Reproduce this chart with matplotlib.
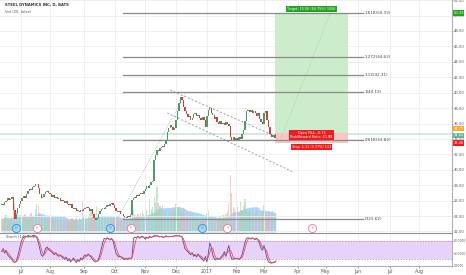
import numpy as np
import pandas as pd
import matplotlib
matplotlib.use('Agg')
import matplotlib.pyplot as plt
from matplotlib.patches import Rectangle

title = 'STEEL DYNAMICS INC, D, BATS'

# daily closes, 14 Jun 2016 .. 13 Mar 2017
closes = [
    25.6, 25.4, 25.8, 26.0, 26.3, 26.1, 26.2, 26.5, 24.8, 23.6, 24.2, 25.0, 25.6,
    25.9, 26.3, 26.6, 26.4, 26.9, 27.2, 27.5, 27.4, 27.8, 27.9, 28.1, 28.2, 27.7,
    26.9, 26.4, 26.5, 26.9, 27.1, 27.3, 27.0,
    26.8, 26.5, 26.7, 26.4, 26.5, 26.2, 26.3, 26.0, 26.1, 25.9, 25.7, 25.9, 25.6,
    25.4, 25.5, 25.1, 24.9, 25.0, 24.6, 24.7, 24.5, 24.8, 24.6,
    24.9, 25.1, 25.2, 25.0, 24.7, 24.9, 24.2, 23.7, 23.5, 23.8, 24.2, 24.6, 24.9,
    25.1, 24.9, 25.2, 25.4, 25.3, 25.6, 25.7, 25.4,
    25.0, 24.7, 24.5, 24.6, 24.3, 24.2, 24.0, 23.9, 23.8, 24.0, 23.9, 24.1, 26.1,
    26.4, 26.3, 26.7, 26.6, 26.9, 27.0, 26.8, 27.2,
    27.5, 27.9, 27.6, 28.0, 28.4, 28.6, 31.3, 31.9, 32.6, 32.4, 32.8, 33.0, 32.9,
    33.3, 33.8, 34.9, 35.4, 35.8, 35.5, 35.2, 35.4,
    36.5, 37.6, 38.7, 39.4, 39.0, 38.2, 37.6, 37.2, 36.8, 37.0, 36.5, 36.7, 37.2,
    37.4, 37.0, 37.1, 36.7, 36.5, 36.8, 36.4, 35.6,
    37.0, 37.8, 38.0, 37.4, 37.1, 36.6, 36.9, 36.2, 36.0, 36.3, 35.9, 36.1, 35.8,
    36.2, 35.9, 35.7, 34.2, 33.9, 34.3, 33.8,
    34.1, 33.9, 34.2, 34.0, 34.6, 35.2, 36.3, 37.6, 37.8, 37.5, 37.7, 37.3, 37.6,
    37.4, 37.0, 37.3, 36.6, 36.2, 36.0,
    37.3, 37.6, 36.5, 35.5, 34.6, 34.3, 34.5, 34.1, 34.62,
]
# volume, millions
volumes = [
    4.2, 3.8, 4.5, 5.1, 3.9, 4.0, 3.6, 4.4, 7.8, 8.5, 6.2, 4.8, 4.6,
    4.1, 3.9, 4.6, 5.3, 4.2, 3.8, 4.9, 5.5, 4.4, 4.0, 6.8, 8.2, 7.5, 5.6, 4.9,
    4.2, 3.9, 4.5, 3.8, 4.1,
    4.4, 3.9, 4.0, 3.6, 4.2, 3.5, 3.8, 4.6, 3.7, 3.4, 3.9, 4.1, 3.6, 3.3, 3.8,
    4.0, 3.5, 3.9, 4.3, 3.6, 4.0, 3.8, 9.2,
    4.5, 3.9, 4.1, 4.8, 5.2, 6.1, 5.4, 4.6, 4.2, 7.5, 4.3, 3.9, 4.4, 4.0, 3.7,
    4.5, 4.1, 3.8, 4.2, 4.6, 4.0,
    3.9, 4.2, 3.6, 3.8, 4.1, 3.5, 3.9, 4.3, 3.7, 3.6, 4.0, 5.2, 8.8, 6.5, 5.1,
    4.6, 5.3, 4.8, 5.5, 6.2, 5.4,
    5.8, 6.4, 5.1, 9.7, 6.8, 7.4, 10.2, 9.1, 13.2, 8.4, 7.6, 6.9, 7.8, 6.2, 5.5,
    4.8, 6.1, 5.3, 6.6, 7.2, 5.9,
    8.1, 6.7, 7.4, 6.2, 5.5, 6.9, 5.1, 4.6, 5.8, 4.9, 6.3, 5.2, 4.4, 3.8, 4.1,
    3.5, 2.9, 3.2, 3.6, 3.3, 3.9,
    5.6, 6.2, 4.8, 4.1, 4.5, 3.9, 4.3, 3.7, 4.0, 4.6, 3.8, 5.1, 4.4, 5.2, 5.9,
    8.3, 16.8, 11.5, 7.2, 6.8,
    5.5, 7.3, 6.0, 8.9, 6.4, 7.7, 9.6, 6.2, 5.8, 6.5, 5.3, 5.9, 4.9, 5.6, 6.4,
    5.2, 4.8, 5.7, 6.3,
    7.8, 5.9, 5.1, 6.0, 5.4, 5.8, 6.2, 5.0, 4.7,
]
# stochastic %K
stoch_k = [
    45, 55, 40, 50, 35, 30, 25, 20, 12, 10, 15,
    30, 50, 70, 85, 92, 95, 93, 97, 95, 92, 96, 98, 94, 90,
    75, 55, 35, 30, 40, 55, 60, 52, 48, 45,
    40, 35, 42, 33, 30, 35, 28,
    25, 20, 28, 15, 22, 12, 18, 25, 15, 10, 20, 14, 25, 18, 30,
    35, 30, 38, 32, 28, 20, 15, 12, 15, 20, 35, 55,
    75, 88, 85, 90, 85, 82, 88, 80, 60, 40, 32, 28, 30,
    25, 22, 20, 24, 20, 25, 22, 30,
    88, 92, 90, 95, 88, 92, 95, 90, 85, 92, 88, 95, 90, 93, 97, 95, 96, 94,
    92, 95, 90, 93, 96, 94, 92, 95, 93, 95,
    96, 97, 95, 96, 94, 92, 75, 55, 50, 45,
    40, 35, 42, 30, 35, 28, 38, 30, 25, 20, 15, 30, 12, 40,
    73, 60, 35, 22, 18, 25, 20, 22, 30, 35, 45, 30, 50, 65, 35,
    22, 20, 25, 22, 24, 20, 25, 35, 55, 75, 88, 90,
    88, 85, 90, 86, 84, 88, 80, 70, 55, 50, 65, 45, 25, 12, 10,
    8, 10, 12, 15,
]
assert len(closes) == len(volumes) == len(stoch_k) == 188

holidays = ['2016-07-04', '2016-09-05', '2016-11-24', '2016-12-26', '2017-01-02',
            '2017-01-16', '2017-02-20', '2017-04-14', '2017-05-29', '2017-07-04']
days = pd.bdate_range('2016-06-14', '2017-08-31')
days = days[~days.isin(pd.to_datetime(holidays))]

fib_levels = ['0', '0.618', '1', '1.13', '1.272', '1.618']
fib_prices = [23.62, 33.82, 40.13, 42.31, 44.62, 50.33]

entry, stop, target, last = 34.77, 33.46, 50.33, 34.62
div_dates = ['2016-06-28', '2016-09-28', '2016-12-28']
earn_dates = ['2016-07-19', '2016-10-18', '2017-01-24', '2017-04-18']

c = pd.Series(closes)
o = c.shift(1).fillna(c.iloc[0] - 0.2)
idx = np.arange(len(c))
up = (c >= o).values
vol = pd.Series(volumes)
vol_ma = vol.rolling(20, min_periods=1).mean()
k = pd.Series(stoch_k, dtype=float)
d = k.rolling(3, min_periods=1).mean()

def pos(date):
    return days.get_loc(pd.Timestamp(date))

month_pos, month_lab = [], []
for m in pd.date_range('2016-07-01', '2017-08-01', freq='MS'):
    first = days[days >= m][0]
    month_pos.append(days.get_loc(first))
    month_lab.append('2017' if m.month == 1 else m.strftime('%b'))

xlim = (-1.1, 307.2)
W = 452 / 466
fig = plt.figure(figsize=(4.66, 2.75), dpi=100)
ax_v = fig.add_axes([0, 1 - 232 / 275, W, 232 / 275])
ax = fig.add_axes([0, 1 - 232 / 275, W, 232 / 275], facecolor='none')
ax_s = fig.add_axes([0, 1 - 266 / 275, W, 33 / 275])

grid_c = '#eeeeee'
txt_c = '#555555'

# volume pane (behind price)
ax_v.fill_between(idx, 0, vol_ma, color='#8ccdf5', alpha=0.75, lw=0, zorder=1)
ax_v.bar(idx, vol, width=0.8, color=np.where(up, '#9fd4a8', '#f2a9a9'), alpha=0.6,
         lw=0, zorder=2)
ax_v.set_ylim(0, 68)
ax_v.set_xlim(*xlim)
ax_v.axis('off')

# price pane
for p in range(22, 53, 2):
    ax.axhline(p, color=grid_c, lw=0.6, zorder=0)
for mp in month_pos:
    ax.axvline(mp, color=grid_c, lw=0.6, zorder=0)
    ax_s.axvline(mp, color=grid_c, lw=0.6, zorder=0)

ax.axhline(last, color='#cde8df', lw=1.3, zorder=1)

# long position tool
x0, x1 = 186.5, 236.3
ax.add_patch(Rectangle((x0, entry), x1 - x0, target - entry, facecolor='#cdeccb',
                       edgecolor='none', zorder=1))
ax.add_patch(Rectangle((x0, stop), x1 - x0, entry - stop, facecolor='#f9c6c6',
                       edgecolor='none', zorder=1))
ax.plot([190, 226], [33.86, 51.2], color='#9ccf9a', lw=0.6, ls=(0, (1, 1.5)), zorder=2)

# fib retracement
for lv, pr in zip(fib_levels, fib_prices):
    ax.plot([83, 246.5], [pr, pr], color='#8a8a8a', lw=0.9, zorder=3)
    ax.text(247.5, pr, f'{lv}({pr:.2f})', fontsize=3.0, color='#444444',
            va='center', ha='left', zorder=4)
ax.plot([79, 126], [23.62, 40.13], color='#b0b0b0', lw=0.6, ls=(0, (1, 1.5)), zorder=2)

# channel
ax.plot([115, 188], [40.34, 34.25], color='#9a9a9a', lw=0.7, ls=(0, (2, 2)), zorder=2)
ax.plot([113, 198.9], [37.36, 29.71], color='#9a9a9a', lw=0.7, ls=(0, (2, 2)), zorder=2)

# candles
ax.bar(idx, np.maximum(np.abs(c - o), 0.12), bottom=np.minimum(o, c), width=0.95,
       color=np.where(up, '#4f9a6a', '#c8453a'), lw=0, zorder=5)

# dividends / earnings
for dd in div_dates:
    ax.scatter(pos(dd), 22.44, s=34, facecolor='#aad8f5', edgecolor='#2a8fd8',
               lw=0.6, zorder=6)
    ax.text(pos(dd), 22.44, 'D', fontsize=2.6, color='#2a8fd8', ha='center',
            va='center', zorder=7)
for ed in earn_dates:
    ax.scatter(pos(ed), 22.44, s=34, facecolor='white', edgecolor='#ec7b93',
               lw=0.6, zorder=6)
    ax.text(pos(ed), 22.44, 'E', fontsize=2.6, color='#ec7b93', ha='center',
            va='center', zorder=7)

# position labels
xm = (x0 + x1) / 2
ax.text(xm, target + 0.55, f'Target: {target - entry:.2f} ({(target - entry) / entry * 100:.2f}%) '
        f'{round((target - entry) * 100)}', fontsize=2.4, color='white', ha='center',
        va='center', zorder=8,
        bbox=dict(boxstyle='square,pad=0.3', fc='#21a51f', ec='none'))
ax.text(xm, 34.5, f'Open P&L: {last - entry:.2f}\nRisk/Reward Ratio: '
        f'{(target - entry) / (entry - stop):.2f}', fontsize=2.4, color='white',
        ha='center', va='center', linespacing=1.1, zorder=8,
        bbox=dict(boxstyle='square,pad=0.3', fc='#ee1d1d', ec='none'))
ax.text(xm, 33.0, f'Stop: {entry - stop:.2f} ({(entry - stop) / entry * 100:.2f}%) '
        f'{round((entry - stop) * 100)}', fontsize=2.4, color='white', ha='center',
        va='center', zorder=8,
        bbox=dict(boxstyle='square,pad=0.3', fc='#ee1d1d', ec='none'))

ax.set_xlim(*xlim)
ax.set_ylim(21.93, 52.02)
ax.yaxis.tick_right()
ax.set_yticks(range(22, 53, 2))
ax.set_yticklabels([f'{p:.2f}' for p in range(22, 53, 2)])
ax.tick_params(axis='y', labelsize=2.7, colors=txt_c, length=1, width=0.4, pad=0.5)
ax.set_xticks([])
for s in ['top', 'left', 'bottom']:
    ax.spines[s].set_visible(False)
ax.spines['right'].set_color('#b0b0b0')
ax.spines['right'].set_linewidth(0.8)

# axis tags
for yp, txt, col in [(target, '50.33', '#21a51f'),
                     (entry + 0.55, f'{entry:.2f}', '#f5a623'),
                     (last - 0.15, f'{last:.2f}', '#66b49a'),
                     (stop, f'{stop:.2f}', '#ee1d1d')]:
    ax.text(1.003, yp, txt, transform=ax.get_yaxis_transform(), fontsize=2.6,
            color='white', va='center', ha='left', clip_on=False, zorder=9,
            bbox=dict(boxstyle='square,pad=0.2', fc=col, ec='none'))

fig.text(5 / 466, 1 - 5 / 275, title, fontsize=2.7, fontweight='bold', color='#333333',
         va='center')
fig.text(5 / 466, 1 - 12 / 275, 'Vol (20, false)', fontsize=2.7, color='#555555',
         va='center')

# stochastic pane
ax_s.axhspan(20, 80, color='#e9d2fa', lw=0, zorder=0)
ax_s.axhline(80, color='#9a86ad', lw=0.5, ls=(0, (2, 2)), zorder=1)
ax_s.axhline(20, color='#9a86ad', lw=0.5, ls=(0, (2, 2)), zorder=1)
ax_s.plot(idx, k, color='#4a4f9a', lw=0.6, zorder=3)
ax_s.plot(idx, d, color='#ff4a4a', lw=0.6, zorder=3)
ax_s.text(3, 97, 'Stoch (14, 3, 3)', fontsize=2.7, color='#555555', va='top')
ax_s.set_xlim(*xlim)
ax_s.set_ylim(-1, 105)
ax_s.yaxis.tick_right()
ax_s.set_yticks([0, 40, 80])
ax_s.set_yticklabels(['0.0000', '40.0000', '80.0000'])
ax_s.tick_params(axis='y', labelsize=2.1, colors=txt_c, length=1, width=0.4, pad=0.5)
ax_s.set_xticks(month_pos)
ax_s.set_xticklabels(month_lab)
ax_s.tick_params(axis='x', labelsize=3.3, colors=txt_c, length=1.5, width=0.4, pad=1)
ax_s.spines['top'].set_color('#909090')
ax_s.spines['top'].set_linewidth(0.8)
ax_s.spines['left'].set_visible(False)
for s in ['right', 'bottom']:
    ax_s.spines[s].set_color('#b0b0b0')
    ax_s.spines[s].set_linewidth(0.8)

fig.savefig('out.png', dpi=100)
